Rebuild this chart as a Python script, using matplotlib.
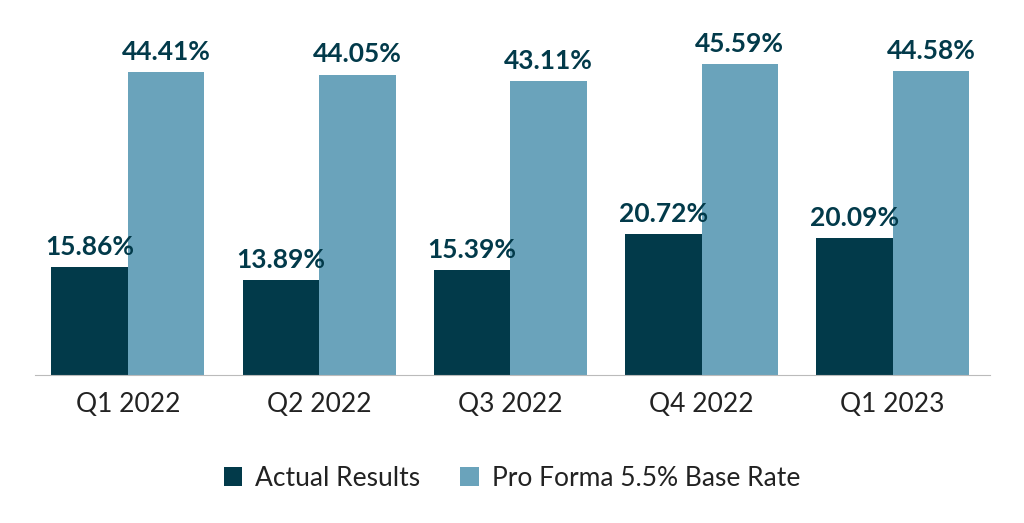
import numpy as np
import matplotlib.pyplot as plt

plt.rcParams['font.family'] = ['Lato', 'DejaVu Sans']

quarters = ['Q1 2022', 'Q2 2022', 'Q3 2022', 'Q4 2022', 'Q1 2023']
actual = [15.86, 13.89, 15.39, 20.72, 20.09]
pro_forma = [44.41, 44.05, 43.11, 45.59, 44.58]

dark = '#023a4a'
light = '#6aa3bb'

fig = plt.figure(figsize=(10.24, 5.23), dpi=100)
ax = fig.add_axes([0.034, 0.283, 0.933, 0.717])

x = np.arange(len(quarters))
w = 0.4
b1 = ax.bar(x - w / 2, actual, w, color=dark, label='Actual Results')
b2 = ax.bar(x + w / 2, pro_forma, w, color=light, label='Pro Forma 5.5% Base Rate')

for bars, vals in ((b1, actual), (b2, pro_forma)):
    for bar, v in zip(bars, vals):
        ax.text(bar.get_x() + bar.get_width() / 2, v + 1.2, f'{v:.2f}%',
                ha='center', va='bottom', fontsize=19, fontweight='bold', color=dark)

ax.set_xlim(-0.487, 4.51)
ax.set_ylim(0, 55)
ax.set_xticks(x)
ax.set_xticklabels(quarters, fontsize=19, color='#222222')
ax.tick_params(axis='x', length=0, pad=12)
ax.set_yticks([])
for s in ['top', 'right', 'left']:
    ax.spines[s].set_visible(False)
ax.spines['bottom'].set_color('#bbbbbb')

fig.legend(loc='center', bbox_to_anchor=(0.5, 0.086), ncol=2, frameon=False,
           fontsize=19, handlelength=0.7, handleheight=0.7, columnspacing=1.5,
           handletextpad=0.5, labelcolor='#222222')

fig.savefig('out.png', dpi=100)
